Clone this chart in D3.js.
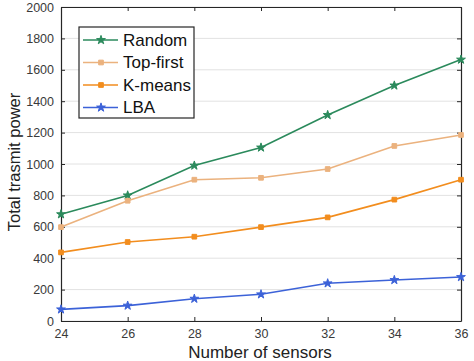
<!DOCTYPE html>
<html>
<head>
<meta charset="utf-8">
<script src="https://cdn.jsdelivr.net/npm/d3@7/dist/d3.min.js"></script>
<style>
  html, body { margin: 0; padding: 0; background: #fff; }
  svg { display: block; font-family: "Liberation Sans", Arial, sans-serif; }
</style>
</head>
<body>
<svg id="chart" width="474" height="361"></svg>
<script>
// data
const sensors = [24, 26, 28, 30, 32, 34, 36];
const randomPower   = [680, 800, 990, 1105, 1312, 1500, 1665];
const topFirstPower = [598, 766, 900, 912, 968, 1115, 1185];
const kmeansPower   = [437, 503, 537, 598, 660, 773, 900];
const lbaPower      = [74, 98, 142, 170, 240, 261, 280];
const yTicks = [0, 200, 400, 600, 800, 1000, 1200, 1400, 1600, 1800, 2000];
const xTicks = [24, 26, 28, 30, 32, 34, 36];

const series = [
  { name: 'Random',    values: randomPower,   color: '#2b8a5c', shape: 'star' },
  { name: 'Top-first', values: topFirstPower, color: '#ebb27e', shape: 'square' },
  { name: 'K-means',   values: kmeansPower,   color: '#f28d1e', shape: 'square' },
  { name: 'LBA',       values: lbaPower,      color: '#3c62d8', shape: 'star' }
];

const svg = d3.select('#chart');
const m = { left: 61, right: 13, top: 7, bottom: 40 };
const W = 474, H = 361;
const x = d3.scaleLinear().domain([24, 36]).range([m.left, W - m.right]);
const y = d3.scaleLinear().domain([0, 2000]).range([H - m.bottom, m.top]);

// horizontal grid
svg.append('g').selectAll('line').data(yTicks).join('line')
  .attr('x1', m.left).attr('x2', W - m.right)
  .attr('y1', d => y(d)).attr('y2', d => y(d))
  .attr('stroke', '#e2e2e2').attr('stroke-width', 1);

// axes, ticks inward, box all round
const gx = svg.append('g').attr('transform', 'translate(0,' + y(0) + ')')
  .call(d3.axisBottom(x).tickValues(xTicks).tickFormat(d3.format('d')).tickSizeInner(-4).tickSizeOuter(0).tickPadding(8));
const gxt = svg.append('g').attr('transform', 'translate(0,' + y(2000) + ')')
  .call(d3.axisTop(x).tickValues(xTicks).tickSizeInner(-4).tickSizeOuter(0).tickFormat(''));
const gy = svg.append('g').attr('transform', 'translate(' + x(24) + ',0)')
  .call(d3.axisLeft(y).tickValues(yTicks).tickFormat(d3.format('d')).tickSizeInner(-4).tickSizeOuter(0).tickPadding(7));
const gyr = svg.append('g').attr('transform', 'translate(' + x(36) + ',0)')
  .call(d3.axisRight(y).tickValues(yTicks).tickSizeInner(-4).tickSizeOuter(0).tickFormat(''));
[gx, gxt, gy, gyr].forEach(function (g) {
  g.selectAll('path').attr('stroke', '#262626').attr('stroke-width', 1.2);
  g.selectAll('line').attr('stroke', '#262626');
  g.selectAll('text').attr('fill', '#3a3a3a').attr('font-size', 12.5)
    .attr('font-family', '"Liberation Sans", Arial, sans-serif');
});

const line = d3.line().x((d, i) => x(sensors[i])).y(d => y(d));
const star = d3.symbol().type(d3.symbolStar).size(24);
const square = d3.symbol().type(d3.symbolSquare).size(22);

function marker(g, s, cx, cy) {
  g.append('path').attr('d', (s.shape === 'star' ? star : square)())
    .attr('transform', 'translate(' + cx + ',' + cy + ')')
    .attr('fill', s.color).attr('stroke', s.color).attr('stroke-width', 1);
}

series.forEach(function (s) {
  svg.append('path').datum(s.values).attr('d', line)
    .attr('fill', 'none').attr('stroke', s.color).attr('stroke-width', 1.6);
  const g = svg.append('g');
  s.values.forEach(function (v, i) { marker(g, s, x(sensors[i]), y(v)); });
});

// legend
const lg = svg.append('g');
lg.append('rect').attr('x', 79).attr('y', 27).attr('width', 115).attr('height', 91)
  .attr('fill', '#fff').attr('stroke', '#262626').attr('stroke-width', 1.2);
series.forEach(function (s, i) {
  const ly = 40 + i * 22.5;
  lg.append('line').attr('x1', 83).attr('x2', 118).attr('y1', ly).attr('y2', ly)
    .attr('stroke', s.color).attr('stroke-width', 1.6);
  marker(lg, s, 101, ly);
  lg.append('text').attr('x', 123).attr('y', ly).attr('dy', '0.35em')
    .attr('font-size', 17).attr('fill', '#111').text(s.name);
});

// axis labels
svg.append('text').attr('x', 260).attr('y', 358)
  .attr('text-anchor', 'middle').attr('font-size', 17).attr('fill', '#222')
  .text('Number of sensors');
svg.append('text').attr('transform', 'translate(20,162) rotate(-90)')
  .attr('text-anchor', 'middle').attr('font-size', 16.5).attr('fill', '#222')
  .text('Total trasmit power');
</script>
</body>
</html>
